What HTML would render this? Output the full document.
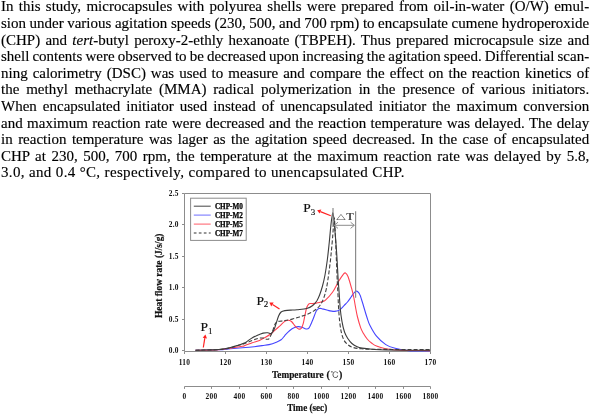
<!DOCTYPE html>
<html><head><meta charset="utf-8"><style>
html,body{margin:0;padding:0;background:#fff;}
body{width:592px;height:415px;position:relative;overflow:hidden;}
.ln{position:absolute;left:0.8px;width:611.73px;transform:scaleX(0.9615);transform-origin:0 0;font-family:"Liberation Serif",serif;font-size:15.6px;line-height:20px;height:20px;word-spacing:-1.56px;white-space:nowrap;text-align:justify;text-align-last:justify;color:#000;-webkit-text-stroke:0.15px #000;}
.ln.last{text-align:left;text-align-last:left;word-spacing:0px;letter-spacing:0.364px;}
svg{position:absolute;left:0;top:0;}
svg text{font-family:"Liberation Serif",serif;fill:#111;}
.tk{font-size:7.4px;font-weight:bold;letter-spacing:0.25px;}
.ax{font-size:10px;font-weight:bold;stroke:#111;stroke-width:0.2px;}
.cj{font-family:"IPAGothic",sans-serif !important;font-size:8.6px;fill:#3a3a3a !important;}
.ax2{font-size:10.8px;font-weight:bold;stroke:#111;stroke-width:0.2px;}
.lg{font-size:7.2px;font-weight:bold;fill:#000 !important;stroke:#000;stroke-width:0.25px;}
.dt{fill:#4a4a4a !important;}
.dtri{font-family:"DejaVu Sans",sans-serif !important;font-size:11px;}
.dtt{font-size:11.4px;font-weight:bold;}
.pl{font-size:13.4px;fill:#111 !important;stroke:#111;stroke-width:0.22px;}
.sub{font-size:9px;stroke-width:0.15px;}
</style></head><body>
<div class="ln" style="top:-3.67px">In this study, microcapsules with polyurea shells were prepared from oil-in-water (O/W) emul-</div>
<div class="ln" style="top:12.94px">sion under various agitation speeds (230, 500, and 700 rpm) to encapsulate cumene hydroperoxide</div>
<div class="ln" style="top:29.54px">(CHP) and <i>tert</i>-butyl peroxy-2-ethly hexanoate (TBPEH). Thus prepared microcapsule size and</div>
<div class="ln" style="top:46.14px">shell contents were observed to be decreased upon increasing the agitation speed. Differential scan-</div>
<div class="ln" style="top:62.73px">ning calorimetry (DSC) was used to measure and compare the effect on the reaction kinetics of</div>
<div class="ln" style="top:79.33px">the methyl methacrylate (MMA) radical polymerization in the presence of various initiators.</div>
<div class="ln" style="top:95.94px">When encapsulated initiator used instead of unencapsulated initiator the maximum conversion</div>
<div class="ln" style="top:112.54px">and maximum reaction rate were decreased and the reaction temperature was delayed. The delay</div>
<div class="ln" style="top:129.13px">in reaction temperature was lager as the agitation speed decreased. In the case of encapsulated</div>
<div class="ln" style="top:145.74px">CHP at 230, 500, 700 rpm, the temperature at the maximum reaction rate was delayed by 5.8,</div>
<div class="ln last" style="top:162.33px">3.0, and 0.4 &#176;C, respectively, compared to unencapsulated CHP.</div>
<svg width="592" height="415" viewBox="0 0 592 415">
<path d="M184.5,193.5 H430.5 V351.5 H184.5 Z" fill="none" stroke="#8c8c8c" stroke-width="1"/>
<line x1="182.0" y1="350.5" x2="184.5" y2="350.5" stroke="#8c8c8c"/>
<text x="178.7" y="353.2" class="tk" text-anchor="end">0.0</text>
<line x1="182.0" y1="319.5" x2="184.5" y2="319.5" stroke="#8c8c8c"/>
<text x="178.7" y="322.2" class="tk" text-anchor="end">0.5</text>
<line x1="182.0" y1="287.5" x2="184.5" y2="287.5" stroke="#8c8c8c"/>
<text x="178.7" y="290.2" class="tk" text-anchor="end">1.0</text>
<line x1="182.0" y1="256.5" x2="184.5" y2="256.5" stroke="#8c8c8c"/>
<text x="178.7" y="259.2" class="tk" text-anchor="end">1.5</text>
<line x1="182.0" y1="224.5" x2="184.5" y2="224.5" stroke="#8c8c8c"/>
<text x="178.7" y="227.2" class="tk" text-anchor="end">2.0</text>
<line x1="182.0" y1="193.5" x2="184.5" y2="193.5" stroke="#8c8c8c"/>
<text x="178.7" y="196.2" class="tk" text-anchor="end">2.5</text>
<line x1="184.5" y1="351.5" x2="184.5" y2="354.0" stroke="#8c8c8c"/>
<text x="184.5" y="365.0" class="tk" text-anchor="middle">110</text>
<line x1="225.5" y1="351.5" x2="225.5" y2="354.0" stroke="#8c8c8c"/>
<text x="225.5" y="365.0" class="tk" text-anchor="middle">120</text>
<line x1="266.5" y1="351.5" x2="266.5" y2="354.0" stroke="#8c8c8c"/>
<text x="266.5" y="365.0" class="tk" text-anchor="middle">130</text>
<line x1="307.5" y1="351.5" x2="307.5" y2="354.0" stroke="#8c8c8c"/>
<text x="307.5" y="365.0" class="tk" text-anchor="middle">140</text>
<line x1="348.5" y1="351.5" x2="348.5" y2="354.0" stroke="#8c8c8c"/>
<text x="348.5" y="365.0" class="tk" text-anchor="middle">150</text>
<line x1="389.5" y1="351.5" x2="389.5" y2="354.0" stroke="#8c8c8c"/>
<text x="389.5" y="365.0" class="tk" text-anchor="middle">160</text>
<line x1="430.5" y1="351.5" x2="430.5" y2="354.0" stroke="#8c8c8c"/>
<text x="430.5" y="365.0" class="tk" text-anchor="middle">170</text>
<text x="272" y="378" class="ax" textLength="51.5" lengthAdjust="spacingAndGlyphs">Temperature</text>
<text x="326.4" y="378" class="ax">(</text><text x="330.6" y="378.3" class="cj">&#8451;</text><text x="338.9" y="378" class="ax">)</text>
<line x1="184.5" y1="386.5" x2="430.5" y2="386.5" stroke="#8c8c8c"/>
<line x1="184.5" y1="386.5" x2="184.5" y2="388.9" stroke="#8c8c8c"/>
<text x="184.5" y="398.8" class="tk" text-anchor="middle">0</text>
<line x1="211.5" y1="386.5" x2="211.5" y2="388.9" stroke="#8c8c8c"/>
<text x="211.5" y="398.8" class="tk" text-anchor="middle">200</text>
<line x1="239.5" y1="386.5" x2="239.5" y2="388.9" stroke="#8c8c8c"/>
<text x="239.5" y="398.8" class="tk" text-anchor="middle">400</text>
<line x1="266.5" y1="386.5" x2="266.5" y2="388.9" stroke="#8c8c8c"/>
<text x="266.5" y="398.8" class="tk" text-anchor="middle">600</text>
<line x1="293.5" y1="386.5" x2="293.5" y2="388.9" stroke="#8c8c8c"/>
<text x="293.5" y="398.8" class="tk" text-anchor="middle">800</text>
<line x1="321.5" y1="386.5" x2="321.5" y2="388.9" stroke="#8c8c8c"/>
<text x="321.5" y="398.8" class="tk" text-anchor="middle">1000</text>
<line x1="348.5" y1="386.5" x2="348.5" y2="388.9" stroke="#8c8c8c"/>
<text x="348.5" y="398.8" class="tk" text-anchor="middle">1200</text>
<line x1="375.5" y1="386.5" x2="375.5" y2="388.9" stroke="#8c8c8c"/>
<text x="375.5" y="398.8" class="tk" text-anchor="middle">1400</text>
<line x1="403.5" y1="386.5" x2="403.5" y2="388.9" stroke="#8c8c8c"/>
<text x="403.5" y="398.8" class="tk" text-anchor="middle">1600</text>
<line x1="430.5" y1="386.5" x2="430.5" y2="388.9" stroke="#8c8c8c"/>
<text x="430.5" y="398.8" class="tk" text-anchor="middle">1800</text>
<text x="287.2" y="411.2" class="ax" textLength="40" lengthAdjust="spacingAndGlyphs">Time (sec)</text>
<text transform="translate(162.1,318) rotate(-90)" class="ax2" textLength="84.5" lengthAdjust="spacingAndGlyphs">Heat flow rate (J/s/g)</text>
<rect x="190.6" y="198.2" width="55.6" height="42.2" fill="#fff" stroke="#8c8c8c"/>
<line x1="193.8" y1="206.2" x2="210.7" y2="206.2" stroke="#555" stroke-width="1.1"/>
<text x="214.9" y="208.7" class="lg">CHP-M0</text>
<line x1="193.8" y1="215.1" x2="210.7" y2="215.1" stroke="#7a7aff" stroke-width="1.1"/>
<text x="214.9" y="217.6" class="lg">CHP-M2</text>
<line x1="193.8" y1="224.1" x2="210.7" y2="224.1" stroke="#ff6a74" stroke-width="1.1"/>
<text x="214.9" y="226.6" class="lg">CHP-M5</text>
<line x1="193.8" y1="233.0" x2="210.7" y2="233.0" stroke="#333" stroke-width="1.1" stroke-dasharray="2.7,2.3"/>
<text x="214.9" y="235.5" class="lg">CHP-M7</text>
<path d="M195.5,350.3 C199.3,350.2 212.8,350.1 218.6,349.8 C224.4,349.5 226.6,349.0 230.5,348.7 C234.4,348.4 238.4,348.1 242.3,347.8 C246.2,347.5 250.8,347.1 254.1,346.7 C257.4,346.3 259.5,346.0 262.0,345.6 C264.5,345.2 266.7,345.2 269.1,344.6 C271.5,344.0 274.3,343.0 276.3,342.2 C278.3,341.4 279.7,340.9 281.1,339.8 C282.6,338.7 283.6,336.9 285.0,335.3 C286.4,333.8 288.2,331.8 289.8,330.5 C291.4,329.2 293.2,328.2 294.6,327.6 C296.0,327.0 297.1,326.7 298.3,326.6 C299.5,326.5 300.6,326.8 301.9,327.2 C303.2,327.6 304.9,328.9 306.1,329.0 C307.3,329.1 308.0,329.3 309.1,327.8 C310.2,326.3 311.5,322.8 312.7,320.0 C313.9,317.2 315.2,312.9 316.3,311.0 C317.4,309.1 318.3,308.9 319.3,308.5 C320.3,308.1 320.7,308.5 322.3,308.9 C323.9,309.2 327.1,310.2 328.9,310.6 C330.7,311.0 331.7,311.3 333.0,311.4 C334.3,311.5 335.5,311.2 336.6,311.0 C337.7,310.8 338.4,310.8 339.7,309.9 C341.0,308.9 343.0,306.6 344.3,305.3 C345.6,304.0 346.4,303.4 347.5,302.0 C348.6,300.6 350.1,298.4 351.1,297.0 C352.1,295.6 352.7,294.4 353.5,293.5 C354.3,292.6 355.2,291.6 355.9,291.3 C356.6,291.0 356.9,291.0 357.5,291.5 C358.1,292.0 359.1,292.9 359.8,294.5 C360.6,296.1 361.2,298.6 362.0,301.0 C362.8,303.4 363.6,306.2 364.4,309.0 C365.2,311.8 366.1,314.8 367.0,317.5 C367.9,320.2 368.4,322.4 370.0,325.5 C371.6,328.6 373.9,333.0 376.5,336.2 C379.1,339.4 382.7,342.6 385.8,344.6 C388.9,346.6 391.4,347.3 395.1,348.3 C398.8,349.3 402.3,350.2 408.1,350.6 C413.9,351.1 426.4,350.9 430.0,351.0" fill="none" stroke="#4545ff" stroke-width="1.1"/>
<path d="M195.5,350.3 C199.3,350.2 212.8,350.1 218.6,349.7 C224.4,349.3 226.6,348.7 230.5,348.1 C234.4,347.5 239.9,346.7 242.3,346.3 C244.7,345.9 243.3,346.1 245.0,345.5 C246.7,344.9 249.8,343.7 252.2,342.8 C254.6,341.9 257.3,341.3 259.5,340.4 C261.7,339.5 263.7,338.3 265.5,337.3 C267.3,336.3 268.7,335.5 270.3,334.3 C271.9,333.1 273.5,331.5 275.1,330.1 C276.7,328.7 278.3,327.3 279.9,325.9 C281.5,324.4 283.3,322.3 284.8,321.4 C286.3,320.5 287.5,320.2 288.7,320.3 C289.9,320.4 290.9,320.9 292.0,322.0 C293.1,323.1 294.5,325.5 295.6,326.7 C296.7,327.9 297.7,328.7 298.6,329.0 C299.5,329.3 300.4,329.3 301.2,328.4 C302.0,327.5 302.6,325.8 303.2,323.6 C303.8,321.4 304.4,317.7 305.0,315.0 C305.6,312.3 306.1,309.2 306.8,307.3 C307.5,305.4 308.1,304.3 309.1,303.7 C310.1,303.1 311.5,303.7 312.7,303.6 C313.9,303.5 314.9,303.4 316.3,303.1 C317.7,302.8 319.6,302.4 321.1,301.9 C322.6,301.4 323.3,301.9 325.2,300.3 C327.1,298.7 330.3,295.4 332.5,292.3 C334.7,289.2 336.7,284.5 338.5,281.5 C340.3,278.5 342.1,275.7 343.3,274.3 C344.5,272.9 344.7,272.6 345.5,273.0 C346.3,273.4 347.1,274.1 348.1,276.7 C349.1,279.3 350.7,285.1 351.7,288.7 C352.7,292.3 353.4,295.4 354.0,298.5 C354.6,301.6 354.9,303.9 355.5,307.0 C356.1,310.1 356.6,313.5 357.5,317.0 C358.4,320.5 359.7,325.1 360.7,327.9 C361.7,330.6 362.4,331.6 363.5,333.5 C364.6,335.4 365.9,337.4 367.2,339.0 C368.5,340.6 369.9,341.8 371.5,343.0 C373.1,344.2 374.1,345.2 376.5,346.1 C378.9,347.1 381.8,348.0 385.8,348.7 C389.8,349.4 393.2,349.9 400.6,350.2 C408.0,350.5 425.1,350.5 430.0,350.6" fill="none" stroke="#ff4050" stroke-width="1.1"/>
<path d="M195.5,350.2 C199.3,350.1 212.8,350.0 218.6,349.6 C224.4,349.2 227.5,348.4 230.5,347.8 C233.5,347.2 234.0,346.7 236.4,346.0 C238.8,345.3 242.4,344.3 245.0,343.4 C247.6,342.5 250.0,341.2 252.2,340.4 C254.4,339.5 256.5,338.7 258.3,338.3 C260.1,337.9 261.7,337.9 263.1,338.0 C264.5,338.1 265.7,339.1 266.7,339.2 C267.7,339.3 268.2,339.7 269.1,338.6 C270.0,337.5 271.1,334.9 272.1,332.5 C273.1,330.1 274.2,325.9 275.1,324.1 C276.0,322.3 276.5,322.2 277.5,321.7 C278.5,321.2 279.9,321.3 281.1,321.1 C282.4,320.9 283.1,320.8 285.0,320.5 C286.9,320.2 289.8,319.7 292.2,319.1 C294.6,318.5 297.1,317.7 299.5,316.9 C301.9,316.1 304.3,315.5 306.7,314.5 C309.1,313.5 311.7,312.4 313.9,310.9 C316.1,309.4 318.3,307.6 319.9,305.5 C321.5,303.4 322.5,301.2 323.6,298.3 C324.7,295.4 325.6,292.4 326.5,288.0 C327.4,283.6 328.2,277.8 329.0,272.0 C329.8,266.2 330.6,259.2 331.2,253.0 C331.8,246.8 332.4,240.3 332.8,235.0 C333.2,229.7 333.6,223.8 333.8,221.0 C334.1,218.2 334.1,217.5 334.3,218.0 C334.5,218.5 334.6,220.3 334.8,224.0 C335.0,227.7 335.3,234.0 335.6,240.0 C335.9,246.0 336.1,253.1 336.4,260.0 C336.7,266.9 337.0,275.9 337.3,281.7 C337.6,287.5 337.8,290.6 338.0,295.0 C338.2,299.4 338.3,303.9 338.6,308.3 C338.9,312.7 339.2,317.6 339.7,321.6 C340.1,325.6 340.6,329.1 341.3,332.2 C342.0,335.3 342.9,338.1 344.0,340.2 C345.1,342.3 346.5,343.6 348.0,344.8 C349.5,346.0 350.9,346.8 353.2,347.5 C355.5,348.2 358.0,348.5 361.6,348.8 C365.2,349.1 363.6,349.2 375.0,349.3 C386.4,349.4 420.8,349.6 430.0,349.6" fill="none" stroke="#404040" stroke-width="1.1" stroke-dasharray="4,2"/>
<path d="M195.5,350.2 C197.9,350.1 206.2,350.0 210.0,349.9 C213.8,349.8 215.2,349.9 218.6,349.5 C222.0,349.1 227.3,348.2 230.5,347.5 C233.7,346.8 235.6,346.1 238.0,345.3 C240.4,344.5 242.8,343.9 245.0,342.8 C247.2,341.7 249.0,339.8 251.0,338.6 C253.0,337.4 255.0,336.4 257.0,335.5 C259.0,334.6 261.3,333.6 263.1,333.1 C264.9,332.7 266.6,332.7 267.9,332.8 C269.2,332.9 269.9,333.9 270.9,333.5 C271.9,333.1 273.0,331.9 273.9,330.1 C274.8,328.3 275.5,325.3 276.3,322.9 C277.1,320.5 277.9,317.5 278.7,315.7 C279.5,313.9 280.1,312.9 281.1,312.0 C282.2,311.1 283.4,310.9 285.0,310.6 C286.6,310.3 289.0,310.2 291.0,310.1 C293.0,310.0 294.4,310.0 297.0,309.7 C299.6,309.4 304.1,309.2 306.7,308.5 C309.3,307.8 311.0,306.8 312.7,305.5 C314.4,304.2 315.8,302.4 316.9,300.7 C318.0,298.9 318.7,297.4 319.6,295.0 C320.5,292.6 321.6,289.3 322.5,286.0 C323.4,282.7 324.2,279.3 325.0,275.0 C325.8,270.7 326.6,265.3 327.3,260.0 C328.0,254.7 328.6,248.7 329.2,243.0 C329.8,237.3 330.3,230.7 330.8,226.0 C331.3,221.3 331.9,217.1 332.3,215.0 C332.7,212.9 332.7,212.3 333.0,213.5 C333.3,214.7 333.8,217.6 334.2,222.0 C334.6,226.4 335.2,233.7 335.7,240.0 C336.2,246.3 336.7,253.1 337.1,260.0 C337.5,266.9 337.9,275.9 338.3,281.7 C338.7,287.5 339.0,290.6 339.3,295.0 C339.6,299.4 339.8,303.9 340.2,308.3 C340.6,312.7 341.3,317.6 342.0,321.6 C342.7,325.6 343.6,329.3 344.6,332.2 C345.6,335.1 346.8,336.9 348.0,338.8 C349.2,340.7 350.4,342.2 351.9,343.5 C353.4,344.8 355.5,346.0 357.2,346.8 C358.9,347.6 359.5,347.7 362.0,348.1 C364.5,348.5 368.0,348.9 372.0,349.2 C376.0,349.5 376.1,349.8 385.8,350.0 C395.5,350.2 422.6,350.2 430.0,350.3" fill="none" stroke="#3c3c3c" stroke-width="1.1"/>
<line x1="333" y1="208" x2="333" y2="227" stroke="#8c8c8c" stroke-width="1.2"/>
<line x1="355.6" y1="211.2" x2="355.6" y2="297.7" stroke="#8c8c8c" stroke-width="1.2"/>
<line x1="334.3" y1="225.3" x2="354.3" y2="225.3" stroke="#8c8c8c" stroke-width="1"/>
<polyline points="338,222.2 334.3,225.3 338,228.4" fill="none" stroke="#8c8c8c" stroke-width="1"/>
<polyline points="350.6,222.2 354.3,225.3 350.6,228.4" fill="none" stroke="#8c8c8c" stroke-width="1"/>
<text transform="translate(336.2,219.2) scale(1.12,0.72)" x="0" y="-0.6" class="dt dtri">&#9651;</text><text x="346.3" y="219.6" class="dt dtt">T</text>
<line x1="203.3" y1="347.5" x2="204.8" y2="338.1" stroke="#ff2020" stroke-width="1.2"/><polygon points="205.4,334.5 207.0,338.4 202.7,337.7" fill="#ff2020"/>
<line x1="279.5" y1="308.9" x2="272.5" y2="304.5" stroke="#ff2020" stroke-width="1.2"/><polygon points="269.4,302.6 273.6,302.6 271.3,306.4" fill="#ff2020"/>
<line x1="330.8" y1="215.8" x2="320.4" y2="211.6" stroke="#ff2020" stroke-width="1.2"/><polygon points="317.1,210.2 321.3,209.5 319.6,213.6" fill="#ff2020"/>
<text x="200.6" y="331.2" class="pl">P<tspan class="sub" dy="2.6">1</tspan></text>
<text x="256.4" y="305.3" class="pl">P<tspan class="sub" dy="2.0">2</tspan></text>
<text x="303.2" y="211.9" class="pl">P<tspan class="sub" dy="3.2">3</tspan></text>
</svg>
</body></html>
